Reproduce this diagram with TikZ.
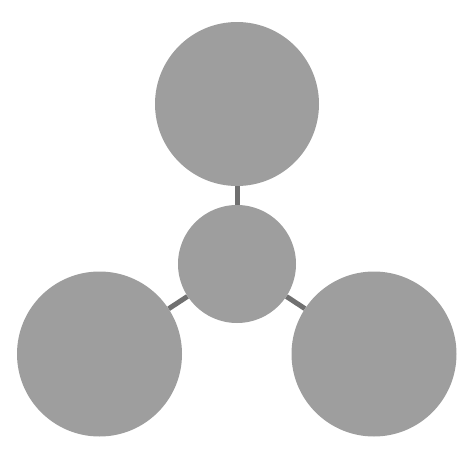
\documentclass[tikz,border=0pt]{standalone}
\begin{document}
\begin{tikzpicture}[x=1pt,y=-1pt,
  ball/.style={circle,fill=ballgray,draw=none,inner sep=0pt},
  link/.style={draw=linkgray,line width=5pt}]
\definecolor{ballgray}{HTML}{9E9E9E}
\definecolor{linkgray}{HTML}{707070}
\useasboundingbox (0,0) rectangle (474,474);
\node[ball,minimum size=118pt] (c) at (237,264) {};
\node[ball,minimum size=164pt] (t) at (237,104) {};
\node[ball,minimum size=165pt] (l) at (99.5,354) {};
\node[ball,minimum size=165pt] (r) at (374,354) {};
\begin{scope}[on background layer/.try]
\end{scope}
\path[link] (c) -- (t);
\path[link] (c) -- (l);
\path[link] (c) -- (r);
\end{tikzpicture}
\end{document}
